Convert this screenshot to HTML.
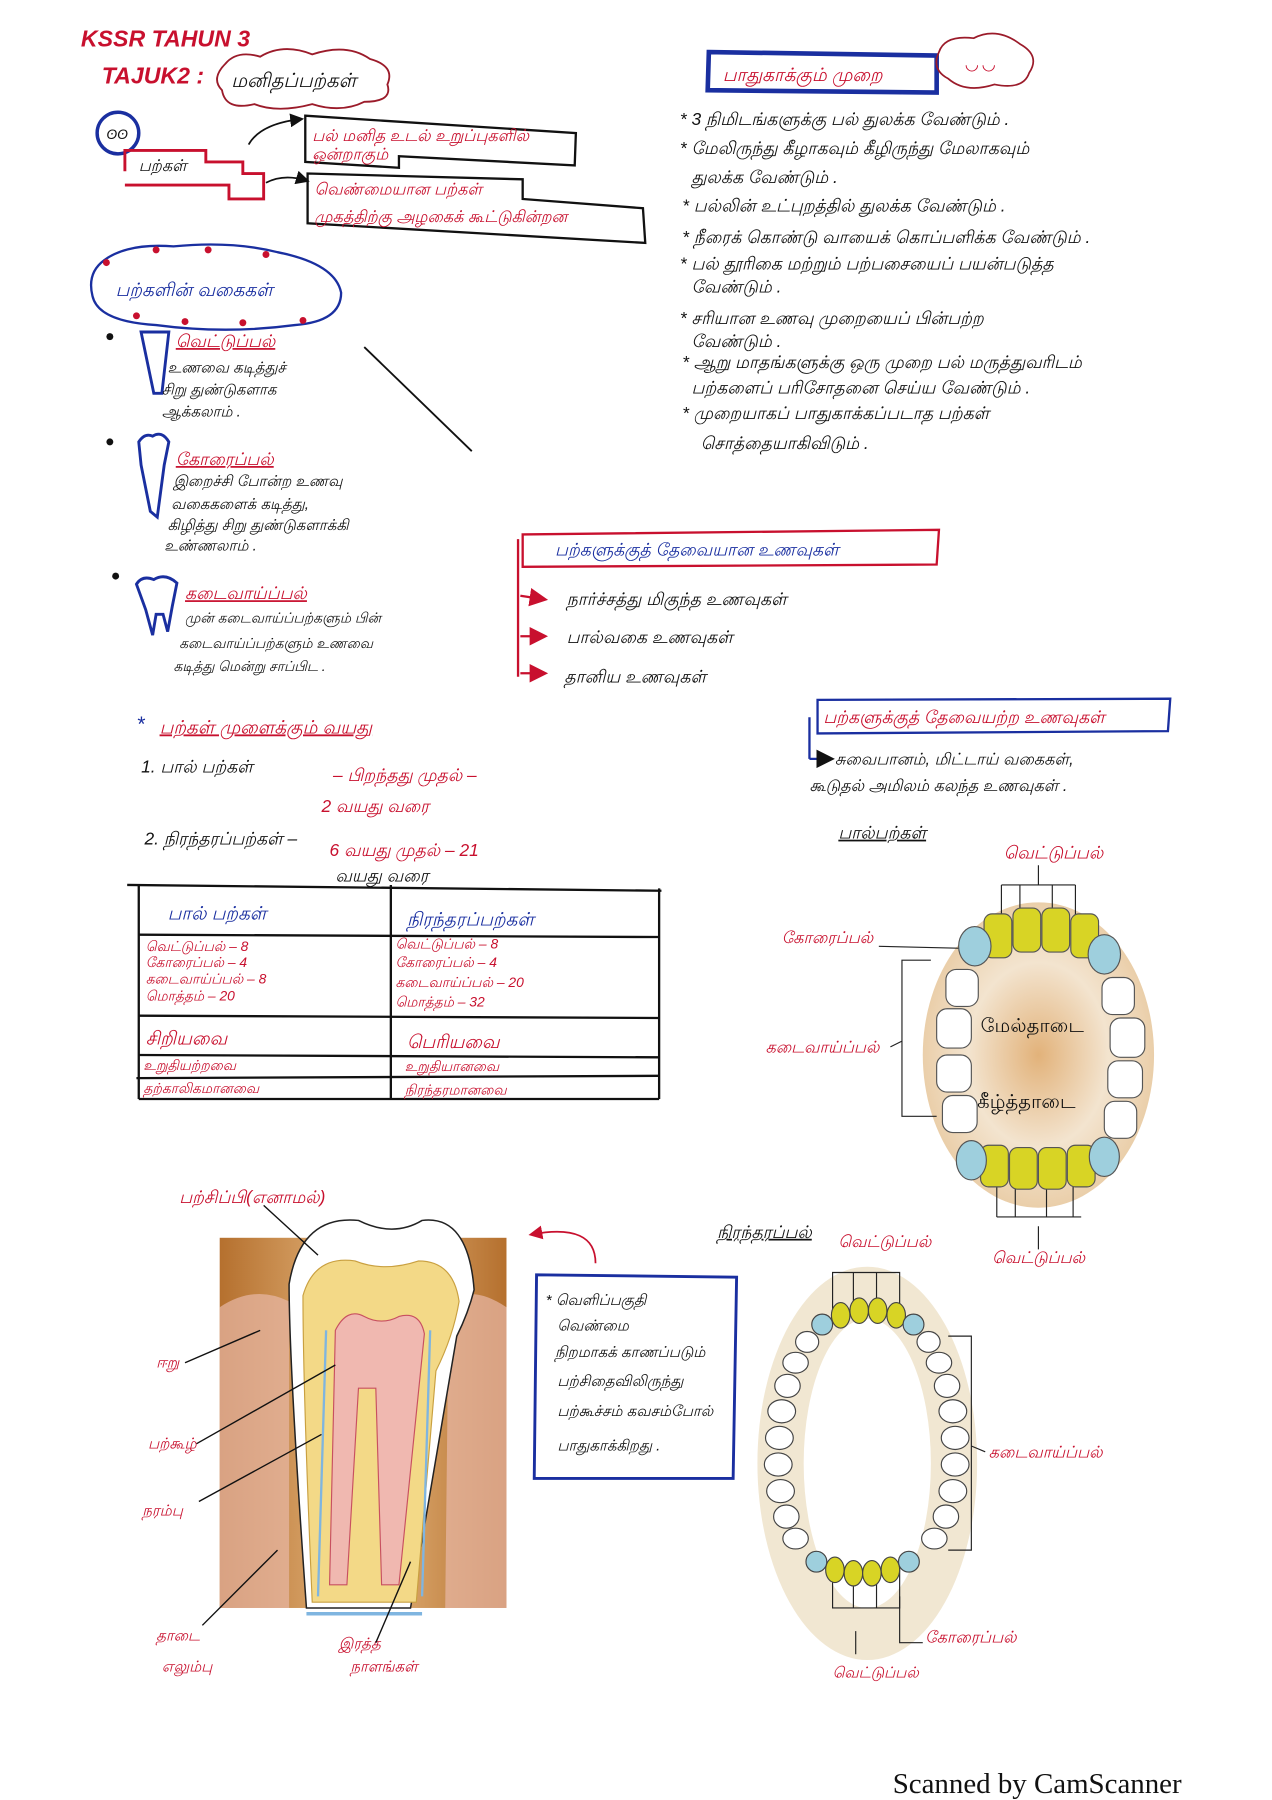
<!DOCTYPE html>
<html><head><meta charset="utf-8"><style>
html,body{margin:0;padding:0;background:#fff}
svg{display:block}
.r{fill:#c8102e;font-family:"Liberation Sans","DejaVu Sans",sans-serif;font-style:italic}
.b{fill:#111;font-family:"Liberation Sans","DejaVu Sans",sans-serif;font-style:italic}
.u{fill:#1a2fa0;font-family:"Liberation Sans","DejaVu Sans",sans-serif;font-style:italic}
</style></head><body>
<svg width="1272" height="1800" viewBox="0 0 1100 1556" preserveAspectRatio="none" xmlns="http://www.w3.org/2000/svg">
<defs>
<radialGradient id="mg" cx="50%" cy="50%" r="55%"><stop offset="0" stop-color="#e2b27a"/><stop offset="0.55" stop-color="#f3e4cf"/><stop offset="1" stop-color="#e8c9a0"/></radialGradient>
<linearGradient id="tg" x1="0" x2="1"><stop offset="0" stop-color="#b5702e"/><stop offset="0.5" stop-color="#e6b880"/><stop offset="1" stop-color="#b5702e"/></linearGradient>
<marker id="ar" markerWidth="8" markerHeight="8" refX="6" refY="4" orient="auto"><path d="M0,0L8,4L0,8z" fill="#c8102e"/></marker>
<marker id="ak" markerWidth="8" markerHeight="8" refX="6" refY="4" orient="auto"><path d="M0,0L8,4L0,8z" fill="#111"/></marker>
</defs>

<!-- header -->
<text x="70" y="40" class="r" font-size="20" font-weight="bold">KSSR TAHUN 3</text>
<text x="88" y="72" class="r" font-size="20" font-weight="bold">TAJUK2 :</text>
<path d="M195,55 q10,-12 30,-6 q20,-12 45,-2 q30,-10 50,4 q22,6 15,22 q5,15 -20,15 q-20,10 -45,2 q-30,8 -50,0 q-25,6 -28,-12 q-10,-10 3,-23z" fill="none" stroke="#9b1b2a" stroke-width="1.6"/>
<text x="200" y="75" class="b" font-size="17">மனிதப்பற்கள்</text>

<circle cx="102" cy="115" r="18" fill="none" stroke="#1a2fa0" stroke-width="3"/>
<text x="92" y="120" class="b" font-size="12">ʘʘ</text>
<path d="M108,148 L108,130 L178,130 L178,140 L210,140 L210,150 L228,150 L228,172 L198,172 L198,160 L108,160" fill="none" stroke="#c8102e" stroke-width="2.5"/>
<text x="120" y="148" class="b" font-size="14">பற்கள்</text>
<path d="M215,125 q10,-18 45,-22" fill="none" stroke="#111" stroke-width="1.5" marker-end="url(#ak)"/>
<path d="M230,158 q15,-8 35,-2" fill="none" stroke="#111" stroke-width="1.5" marker-end="url(#ak)"/>
<path d="M264,100 L498,115 L497,143 L345,135 L345,145 L264,140z" fill="none" stroke="#111" stroke-width="2"/>
<text x="270" y="122" class="r" font-size="14">பல் மனித உடல் உறுப்புகளில்</text>
<text x="270" y="138" class="r" font-size="14">ஒன்றாகும்</text>
<path d="M266,150 L452,155 L452,172 L556,180 L558,210 L266,193z" fill="none" stroke="#111" stroke-width="2"/>
<text x="272" y="168" class="r" font-size="14">வெண்மையான பற்கள்</text>
<text x="272" y="192" class="r" font-size="14">முகத்திற்கு அழகைக் கூட்டுகின்றன</text>

<!-- right top -->
<path d="M613,45 L810,48 L810,80 L612,78z" fill="none" stroke="#1a2fa0" stroke-width="4"/>
<text x="625" y="70" class="r" font-size="16">பாதுகாக்கும் முறை</text>
<path d="M812,45 q5,-15 30,-12 q20,-10 40,5 q18,10 8,25 q-5,15 -30,10 q-25,8 -40,-5 q-15,-8 -8,-23z" fill="none" stroke="#9b1b2a" stroke-width="1.5"/>
<text x="835" y="60" class="r" font-size="14">◡ ◡</text>
<g class="b" font-size="15">
<text x="588" y="108">* 3 நிமிடங்களுக்கு பல் துலக்க வேண்டும் .</text>
<text x="588" y="133">* மேலிருந்து கீழாகவும் கீழிருந்து மேலாகவும்</text>
<text x="598" y="158">துலக்க வேண்டும் .</text>
<text x="590" y="183">* பல்லின் உட்புறத்தில் துலக்க வேண்டும் .</text>
<text x="590" y="210">* நீரைக் கொண்டு வாயைக் கொப்பளிக்க வேண்டும் .</text>
<text x="588" y="233">* பல் தூரிகை மற்றும் பற்பசையைப் பயன்படுத்த</text>
<text x="598" y="253">வேண்டும் .</text>
<text x="588" y="280">* சரியான உணவு முறையைப் பின்பற்ற</text>
<text x="598" y="300">வேண்டும் .</text>
<text x="590" y="318">* ஆறு மாதங்களுக்கு ஒரு முறை பல் மருத்துவரிடம்</text>
<text x="598" y="340">பற்களைப் பரிசோதனை செய்ய வேண்டும் .</text>
<text x="590" y="362">* முறையாகப் பாதுகாக்கப்படாத பற்கள்</text>
<text x="606" y="388">சொத்தையாகிவிடும் .</text>
</g>

<!-- types cloud -->
<path d="M90,225 q20,-15 60,-12 q50,-5 90,5 q50,10 55,35 q0,25 -40,28 q-60,8 -120,0 q-50,-3 -55,-25 q-5,-20 10,-31z" fill="none" stroke="#1a2fa0" stroke-width="2"/>
<g fill="#c8102e"><circle cx="92" cy="227" r="3"/><circle cx="135" cy="216" r="3"/><circle cx="180" cy="216" r="3"/><circle cx="230" cy="220" r="3"/><circle cx="118" cy="273" r="3"/><circle cx="160" cy="278" r="3"/><circle cx="210" cy="279" r="3"/><circle cx="262" cy="277" r="3"/></g>
<text x="100" y="256" class="u" font-size="16">பற்களின் வகைகள்</text>

<circle cx="95" cy="291" r="3" fill="#111"/>
<path d="M122,287 L146,287 L140,340 L133,340z" fill="none" stroke="#1a2fa0" stroke-width="2.5"/>
<text x="152" y="300" class="r" font-size="15" text-decoration="underline">வெட்டுப்பல்</text>
<g class="b" font-size="13"><text x="145" y="322">உணவை கடித்துச்</text><text x="140" y="341">சிறு துண்டுகளாக</text><text x="140" y="360">ஆக்கலாம் .</text></g>
<line x1="315" y1="300" x2="408" y2="390" stroke="#111" stroke-width="1.6"/>

<circle cx="95" cy="382" r="3" fill="#111"/>
<path d="M120,382 q5,-8 12,-5 q8,-5 14,5 l-4,20 l-6,45 l-6,-5 l-8,-40z" fill="none" stroke="#1a2fa0" stroke-width="2.5"/>
<text x="152" y="402" class="r" font-size="15" text-decoration="underline">கோரைப்பல்</text>
<g class="b" font-size="13"><text x="150" y="420">இறைச்சி போன்ற உணவு</text><text x="148" y="440">வகைகளைக் கடித்து,</text><text x="145" y="458">கிழித்து சிறு துண்டுகளாக்கி</text><text x="142" y="476">உண்ணலாம் .</text></g>

<circle cx="100" cy="498" r="3" fill="#111"/>
<path d="M118,505 q5,-8 15,-4 q10,-6 20,3 l-4,20 l-4,22 l-4,-15 l-6,0 l-3,18 l-6,-22z" fill="none" stroke="#1a2fa0" stroke-width="2.5"/>
<text x="160" y="518" class="r" font-size="15" text-decoration="underline">கடைவாய்ப்பல்</text>
<g class="b" font-size="12"><text x="160" y="538">முன் கடைவாய்ப்பற்களும் பின்</text><text x="155" y="560">கடைவாய்ப்பற்களும் உணவை</text><text x="150" y="580">கடித்து மென்று சாப்பிட .</text></g>

<!-- foods needed -->
<path d="M452,462 L812,458 L810,488 L452,490z M448,466 L448,585" fill="none" stroke="#c8102e" stroke-width="2"/>
<text x="480" y="480" class="u" font-size="15">பற்களுக்குத் தேவையான உணவுகள்</text>
<path d="M450,515 L470,518" stroke="#c8102e" stroke-width="2" marker-end="url(#ar)"/>
<path d="M450,550 L470,550" stroke="#c8102e" stroke-width="2" marker-end="url(#ar)"/>
<path d="M450,582 L470,582" stroke="#c8102e" stroke-width="2" marker-end="url(#ar)"/>
<g class="b" font-size="15"><text x="490" y="523">நார்ச்சத்து மிகுந்த உணவுகள்</text><text x="490" y="556">பால்வகை உணவுகள்</text><text x="488" y="590">தானிய உணவுகள்</text></g>

<path d="M707,605 L1012,604 L1010,632 L707,634z M700,620 L700,656" fill="none" stroke="#1a2fa0" stroke-width="2"/>
<text x="712" y="625" class="r" font-size="15">பற்களுக்குத் தேவையற்ற உணவுகள்</text>
<path d="M700,656 L718,656" stroke="#1a2fa0" stroke-width="2" marker-end="url(#ak)"/>
<g class="b" font-size="14"><text x="722" y="661">சுவைபானம், மிட்டாய் வகைகள்,</text><text x="700" y="684">கூடுதல் அமிலம் கலந்த உணவுகள் .</text></g>

<!-- ages -->
<text x="118" y="632" class="u" font-size="18">*</text>
<text x="138" y="634" class="r" font-size="16" text-decoration="underline">பற்கள் முளைக்கும் வயது</text>
<g class="b" font-size="15"><text x="122" y="668">1. பால் பற்கள்</text><text x="125" y="730">2. நிரந்தரப்பற்கள் –</text><text x="290" y="762">வயது வரை</text></g>
<g class="r" font-size="15"><text x="288" y="675">– பிறந்தது முதல் –</text><text x="278" y="702">2 வயது வரை</text><text x="285" y="740">6 வயது முதல் – 21</text></g>

<!-- table -->
<g stroke="#111" stroke-width="2" fill="none">
<path d="M110,765 L572,770"/><path d="M120,808 L570,810"/><path d="M120,878 L570,880"/><path d="M120,912 L570,914"/><path d="M118,932 L570,930"/><path d="M120,950 L570,950"/>
<path d="M120,765 L120,950"/><path d="M338,765 L338,950"/><path d="M570,768 L570,950"/>
</g>
<text x="145" y="795" class="u" font-size="16">பால் பற்கள்</text>
<text x="352" y="800" class="u" font-size="16">நிரந்தரப்பற்கள்</text>
<g class="r" font-size="12"><text x="126" y="822">வெட்டுப்பல் – 8</text><text x="126" y="836">கோரைப்பல் – 4</text><text x="126" y="850">கடைவாய்ப்பல் – 8</text><text x="126" y="865">மொத்தம் – 20</text>
<text x="342" y="820">வெட்டுப்பல் – 8</text><text x="342" y="836">கோரைப்பல் – 4</text><text x="342" y="853">கடைவாய்ப்பல் – 20</text><text x="342" y="870">மொத்தம் – 32</text>
<text x="124" y="925">உறுதியற்றவை</text><text x="124" y="945">தற்காலிகமானவை</text><text x="350" y="926">உறுதியானவை</text><text x="350" y="946">நிரந்தரமானவை</text></g>
<text x="126" y="903" class="r" font-size="16">சிறியவை</text>
<text x="352" y="906" class="r" font-size="16">பெரியவை</text>

<!-- top mouth -->
<text x="725" y="725" class="b" font-size="15" text-decoration="underline">பால்பற்கள்</text>
<text x="868" y="742" class="r" font-size="15">வெட்டுப்பல்</text>
<text x="676" y="815" class="r" font-size="14">கோரைப்பல்</text>
<text x="662" y="910" class="r" font-size="14">கடைவாய்ப்பல்</text>
<text x="858" y="1092" class="r" font-size="14">வெட்டுப்பல்</text>
<ellipse cx="898" cy="912" rx="100" ry="132" fill="url(#mg)"/>
<g stroke="#222" stroke-width="1" fill="none">
<path d="M898,748 L898,765 M866,765 L930,765 M866,765 L866,800 M882,765 L882,795 M910,765 L910,795 M930,765 L930,800"/>
<path d="M898,1080 L898,1060 M862,1052 L935,1052 M862,1052 L862,1020 M878,1052 L878,1025 M905,1052 L905,1025 M928,1052 L928,1020"/>
<path d="M760,818 L842,820 M805,830 L780,830 L780,965 L810,965 M780,900 L770,905"/>
</g>
<g stroke="#555" stroke-width="1">
<g fill="#d8d425"><rect x="851" y="790" width="24" height="38" rx="7"/><rect x="876" y="785" width="24" height="38" rx="7"/><rect x="901" y="785" width="24" height="38" rx="7"/><rect x="926" y="790" width="24" height="38" rx="7"/>
<rect x="848" y="990" width="24" height="36" rx="7"/><rect x="873" y="992" width="24" height="36" rx="7"/><rect x="898" y="992" width="24" height="36" rx="7"/><rect x="923" y="990" width="24" height="36" rx="7"/></g>
<g fill="#9ecfdd"><ellipse cx="843" cy="818" rx="14" ry="17"/><ellipse cx="955" cy="825" rx="14" ry="17"/><ellipse cx="840" cy="1003" rx="13" ry="17"/><ellipse cx="955" cy="1000" rx="13" ry="17"/></g>
<g fill="#fff"><rect x="818" y="838" width="28" height="32" rx="9"/><rect x="810" y="872" width="30" height="34" rx="9"/><rect x="810" y="912" width="30" height="32" rx="9"/><rect x="815" y="947" width="30" height="32" rx="9"/>
<rect x="953" y="845" width="28" height="32" rx="9"/><rect x="960" y="880" width="30" height="34" rx="9"/><rect x="958" y="917" width="30" height="32" rx="9"/><rect x="955" y="952" width="28" height="32" rx="9"/></g>
</g>
<text x="848" y="892" fill="#111" font-family="'Liberation Sans',sans-serif" font-size="17">மேல்தாடை</text>
<text x="845" y="958" fill="#111" font-family="'Liberation Sans',sans-serif" font-size="17">கீழ்த்தாடை</text>

<!-- big tooth -->
<text x="155" y="1040" class="r" font-size="15">பற்சிப்பி(எனாமல்)</text>
<rect x="190" y="1070" width="248" height="320" fill="url(#tg)"/>
<path d="M190,1130 q30,-20 60,-5 L250,1390 L190,1390z M438,1130 q-30,-20 -50,-5 L385,1390 L438,1390z" fill="#e8b8a6" opacity="0.7"/>
<path d="M250,1110 q10,-60 60,-55 q30,15 55,0 q40,-5 45,60 q-5,20 -15,40 L355,1390 L265,1390 Q250,1180 250,1110z" fill="#fff" stroke="#222" stroke-width="1.3"/>
<path d="M262,1120 q10,-35 45,-30 q25,10 55,0 q30,0 35,35 q-5,30 -20,60 L360,1385 L270,1385 Q262,1200 262,1120z" fill="#f3d987" stroke="#c9a040"/>
<path d="M290,1150 q10,-20 25,-12 q15,8 30,0 q18,-5 22,15 L345,1370 L330,1370 L325,1200 L310,1200 L300,1370 L285,1370z" fill="#f0b8b0" stroke="#c85060"/>
<path d="M282,1150 L275,1380 M372,1150 L365,1380" stroke="#7fb5e0" stroke-width="2"/>
<path d="M265,1395 L365,1395" stroke="#7fb5e0" stroke-width="3"/>
<g class="r" font-size="13"><text x="135" y="1182">ஈறு</text><text x="128" y="1252">பற்கூழ்</text><text x="123" y="1310">நரம்பு</text><text x="135" y="1418">தாடை</text><text x="140" y="1445">எலும்பு</text><text x="293" y="1425">இரத்த</text><text x="303" y="1445">நாளங்கள்</text></g>
<g stroke="#111" stroke-width="1.2"><path d="M160,1178 L225,1150"/><path d="M170,1248 L290,1180"/><path d="M172,1298 L278,1240"/><path d="M175,1405 L240,1340"/><path d="M325,1420 L355,1350"/><path d="M228,1042 L275,1085"/></g>
<path d="M515,1092 q0,-35 -55,-25" fill="none" stroke="#c8102e" stroke-width="1.5" marker-end="url(#ar)"/>

<!-- blue box -->
<path d="M464,1102 L637,1104 L634,1278 L462,1278z" fill="none" stroke="#1a2fa0" stroke-width="2.5"/>
<g class="b" font-size="13"><text x="472" y="1128">* வெளிப்பகுதி</text><text x="482" y="1150">வெண்மை</text><text x="480" y="1173">நிறமாகக் காணப்படும்</text><text x="482" y="1198">பற்சிதைவிலிருந்து</text><text x="482" y="1224">பற்கூச்சம் கவசம்போல்</text><text x="482" y="1254">பாதுகாக்கிறது .</text></g>

<!-- bottom mouth -->
<text x="620" y="1070" class="b" font-size="15" text-decoration="underline">நிரந்தரப்பல்</text>
<text x="725" y="1078" class="r" font-size="14">வெட்டுப்பல்</text>
<text x="855" y="1260" class="r" font-size="14">கடைவாய்ப்பல்</text>
<text x="800" y="1420" class="r" font-size="14">கோரைப்பல்</text>
<text x="720" y="1450" class="r" font-size="13">வெட்டுப்பல்</text>
<ellipse cx="750" cy="1265" rx="95" ry="170" fill="#f1e7d2"/>
<ellipse cx="750" cy="1265" rx="55" ry="125" fill="#fff"/>
<g stroke="#222" stroke-width="1" fill="none">
<path d="M720,1135 L720,1100 L778,1100 L778,1135 M738,1100 L738,1130 M758,1100 L758,1130"/>
<path d="M720,1355 L720,1390 L778,1390 L778,1355 M738,1390 L738,1360 M758,1390 L758,1360 M740,1410 L740,1430"/>
<path d="M820,1155 L840,1155 L840,1340 L820,1340 M840,1250 L852,1255"/>
<path d="M778,1380 L778,1420 L798,1420"/>
</g>
<g stroke="#444" stroke-width="1">
<g fill="#d8d425"><ellipse cx="727" cy="1137" rx="8" ry="11"/><ellipse cx="743" cy="1133" rx="8" ry="11"/><ellipse cx="759" cy="1133" rx="8" ry="11"/><ellipse cx="775" cy="1137" rx="8" ry="11"/>
<ellipse cx="722" cy="1357" rx="8" ry="11"/><ellipse cx="738" cy="1360" rx="8" ry="11"/><ellipse cx="754" cy="1360" rx="8" ry="11"/><ellipse cx="770" cy="1357" rx="8" ry="11"/></g>
<g fill="#9ecfdd"><ellipse cx="711" cy="1145" rx="9" ry="9"/><ellipse cx="790" cy="1145" rx="9" ry="9"/><ellipse cx="706" cy="1350" rx="9" ry="9"/><ellipse cx="786" cy="1350" rx="9" ry="9"/></g>
<g fill="#fff">
<ellipse cx="698" cy="1160" rx="10" ry="9"/><ellipse cx="688" cy="1178" rx="11" ry="9"/><ellipse cx="681" cy="1198" rx="11" ry="10"/><ellipse cx="676" cy="1220" rx="12" ry="10"/><ellipse cx="674" cy="1243" rx="12" ry="10"/><ellipse cx="673" cy="1266" rx="12" ry="10"/><ellipse cx="675" cy="1289" rx="12" ry="10"/><ellipse cx="680" cy="1311" rx="11" ry="10"/><ellipse cx="688" cy="1330" rx="11" ry="9"/>
<ellipse cx="803" cy="1160" rx="10" ry="9"/><ellipse cx="812" cy="1178" rx="11" ry="9"/><ellipse cx="819" cy="1198" rx="11" ry="10"/><ellipse cx="824" cy="1220" rx="12" ry="10"/><ellipse cx="826" cy="1243" rx="12" ry="10"/><ellipse cx="826" cy="1266" rx="12" ry="10"/><ellipse cx="824" cy="1289" rx="12" ry="10"/><ellipse cx="818" cy="1311" rx="11" ry="10"/><ellipse cx="808" cy="1330" rx="11" ry="9"/>
</g></g>

<text x="772" y="1550" fill="#111" font-family="'Liberation Serif',serif" font-size="25">Scanned by CamScanner</text>
</svg>
</body></html>
